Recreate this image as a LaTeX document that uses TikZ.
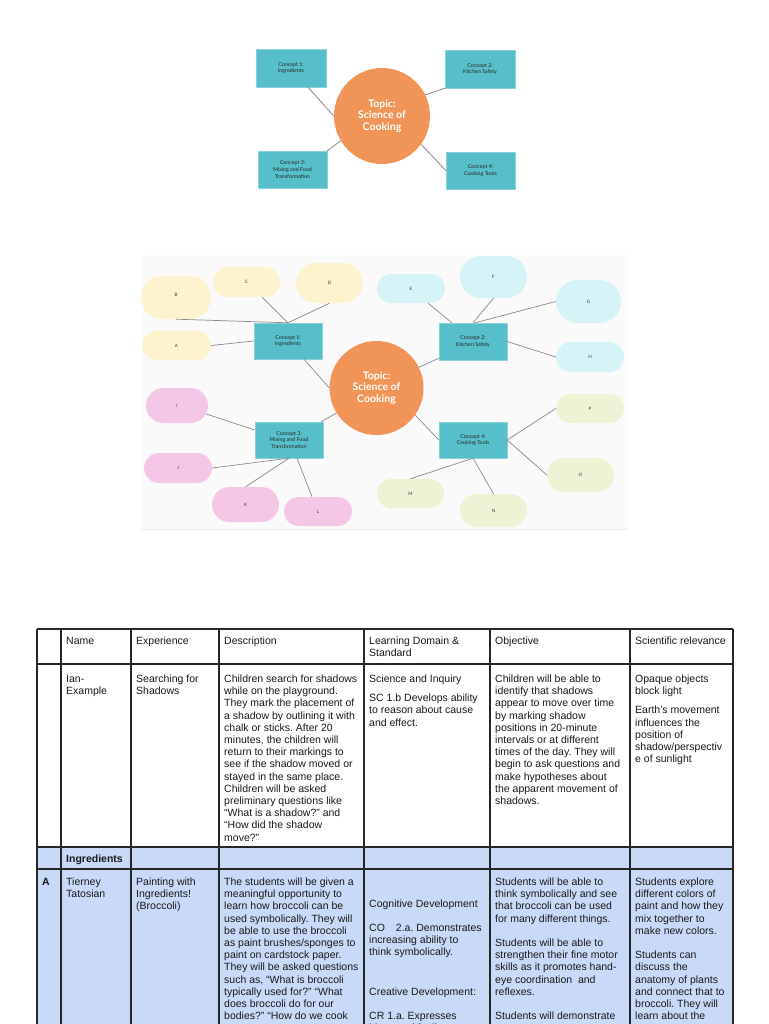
\documentclass[tikz,border=0pt]{standalone}
\usepackage{fontspec}
\setmainfont{Liberation Sans}
\newfontfamily\latofont{Lato}
\usetikzlibrary{calc}
\frenchspacing
\definecolor{tealbox}{HTML}{57BFC9}
\definecolor{orangec}{HTML}{F09458}
\definecolor{pyel}{HTML}{FDF3CE}
\definecolor{pblue}{HTML}{D6F4F7}
\definecolor{ppink}{HTML}{F4C7E6}
\definecolor{pgreen}{HTML}{EEF3D5}
\definecolor{connc}{HTML}{8A8A8A}
\definecolor{tblue}{HTML}{C9DAF8}
\definecolor{bgsoft}{HTML}{FAFAFA}
\newcommand{\tcell}[1]{\parbox[t]{170pt}{\raggedright\frenchspacing #1}}
\begin{document}
\begin{tikzpicture}[x=1pt,y=-1pt,
  concept/.style={fill=tealbox, draw=tealbox!70!white, line width=0.4pt, inner sep=0pt, align=center,
    font=\latofont\fontsize{5.3}{6.8}\selectfont, text=black!85},
  topic/.style={circle, fill=orangec, inner sep=0pt, text=white, align=center,
    font=\latofont\bfseries\fontsize{10.5}{11.5}\selectfont},
  pill/.style 2 args={minimum width=#1, minimum height=#2, rounded corners=#2/2, inner sep=0pt,
    font=\latofont\fontsize{4.5}{5}\selectfont, text=black!80},
  conn/.style={draw=connc, line width=0.8pt},
  conntwo/.style={draw=connc, line width=0.7pt},
  grid/.style={draw=black!85, line width=1.1pt},
  tc/.style={anchor=base west, inner sep=0pt, font=\fontsize{10.5}{12.2}\selectfont, text=black!90}
]
\useasboundingbox (0,0) rectangle (768,1024);
\fill[white] (0,0) rectangle (768,1024);

% ---------- top diagram ----------
\node[concept, minimum width=70, minimum height=38] (c1t) at (291,68) {Concept 1:\\Ingredients};
\node[concept, minimum width=70, minimum height=38] (c2t) at (480,69) {Concept 2:\\Kitchen Safety};
\node[concept, minimum width=69, minimum height=37] (c3t) at (292.5,169.5) {Concept 3:\\Mixing and Food\\Transformation};
\node[concept, minimum width=69, minimum height=37] (c4t) at (480.5,170.5) {Concept 4:\\Cooking Tools};
\node[topic, minimum size=96] (tt) at (382,116) {Topic:\\Science of\\Cooking};
\draw[conn] ([xshift=17pt]c1t.south) -- (tt.180);
\draw[conn] (c2t.south west) -- (tt.26);
\draw[conn] (c3t.north east) -- (tt.-149);
\draw[conn] (c4t.west) -- (tt.-36);

% ---------- second diagram ----------
\fill[bgsoft] (142,255) rectangle (628,529);
\draw[black!8, line width=0.8pt] (142,529) -- (628,529);

\node[topic, minimum size=94] (tb) at (376.5,388) {Topic:\\Science of\\Cooking};
\node[concept, minimum width=68, minimum height=36] (c1) at (288,341) {Concept 1:\\Ingredients};
\node[concept, minimum width=68, minimum height=37] (c2) at (473,341.5) {Concept 2:\\Kitchen Safety};
\node[concept, minimum width=68, minimum height=36] (c3) at (289,440) {Concept 3:\\Mixing and Food\\Transformation};
\node[concept, minimum width=68, minimum height=36] (c4) at (473,440) {Concept 4:\\Cooking Tools};

\node[pill={69}{29}, fill=pyel] (A) at (176.5,345.5) {A};
\node[pill={70}{43}, fill=pyel] (B) at (176,297.5) {\raisebox{6pt}{B}};
\node[pill={67}{30}, fill=pyel] (C) at (246.5,282) {C};
\node[pill={67}{40}, fill=pyel] (D) at (329.5,283) {\raisebox{-3pt}{D}};
\node[pill={68}{29}, fill=pblue] (E) at (411,288.5) {E};
\node[pill={67}{42}, fill=pblue] (F) at (493.5,277) {F};
\node[pill={65}{43}, fill=pblue] (G) at (588.5,301.5) {G};
\node[pill={68}{30}, fill=pblue] (H) at (590,357) {H};
\node[pill={62}{35}, fill=ppink] (I) at (177,405.5) {I};
\node[pill={68}{30}, fill=ppink] (J) at (178,468) {J};
\node[pill={67}{35}, fill=ppink] (K) at (245.5,504.5) {K};
\node[pill={68}{29}, fill=ppink] (L) at (318,511.5) {L};
\node[pill={67}{29}, fill=pgreen] (M) at (410.5,493.5) {M};
\node[pill={67}{33}, fill=pgreen] (N) at (493.5,510.5) {N};
\node[pill={67}{34}, fill=pgreen] (O) at (580.5,475) {O};
\node[pill={68}{29}, fill=pgreen] (P) at (590,408.5) {P};

\draw[conntwo] (B.south) -- (c1.north);
\draw[conntwo] ([xshift=15.5pt]C.south) -- (c1.north);
\draw[conntwo] (D.south) -- (c1.north);
\draw[conntwo] (A.east) -- (c1.west);
\draw[conntwo] ([xshift=16pt]c1.south) -- (tb.180);
\draw[conntwo] ([xshift=-2pt]c3.north east) -- (tb.-148);
\draw[conntwo] ($(I.east)+(-2,8.5)$) -- ([yshift=10pt]c3.west);
\draw[conntwo] (J.east) -- (c3.south);
\draw[conntwo] (K.north) -- (c3.south);
\draw[conntwo] ([xshift=-6pt]L.north) -- ([xshift=8pt]c3.south);
\draw[conntwo] ([xshift=17pt]E.south) -- ([xshift=-21pt]c2.north);
\draw[conntwo] (F.south) -- (c2.north);
\draw[conntwo] (G.west) -- ([xshift=2pt]c2.north);
\draw[conntwo] (c2.east) -- (H.west);
\draw[conntwo] ([yshift=2pt]c2.south west) -- (tb.26);
\draw[conntwo] (c4.west) -- (tb.-35);
\draw[conntwo] (c4.east) -- (P.west);
\draw[conntwo] (c4.east) -- (O.west);
\draw[conntwo] (c4.south) -- (M.north);
\draw[conntwo] (c4.south) -- (N.north);

% ---------- table ----------
\fill[tblue] (37,847) rectangle (733,1030);
\foreach \yy in {629,664,847,869} \draw[grid] (37,\yy) -- (733,\yy);
\foreach \xx in {37,61,131,219,364,490,630,733} \draw[grid] (\xx,629) -- (\xx,1030);

% header
\node[tc] (hname) at (66,644) {\tcell{Name}};
\node[tc] (hexp) at (136,644) {\tcell{Experience}};
\node[tc] (hdesc) at (224,644) {\tcell{Description}};
\node[tc] (hlearn) at (369,644) {\tcell{Learning Domain \&\\Standard}};
\node[tc] (hobj) at (495,644) {\tcell{Objective}};
\node[tc] (hsci) at (635,644) {\tcell{Scientific relevance}};

% row 1
\node[tc] (r1name) at (66,682.5) {\tcell{Ian-\\Example}};
\node[tc] (r1exp) at (136,682.5) {\tcell{Searching for\\Shadows}};
\node[tc] (r1desc) at (224,682.5) {\tcell{Children search for shadows\\while on the playground.\\They mark the placement of\\a shadow by outlining it with\\chalk or sticks. After 20\\minutes, the children will\\return to their markings to\\see if the shadow moved or\\stayed in the same place.\\Children will be asked\\preliminary questions like\\“What is a shadow?” and\\“How did the shadow\\move?”}};
\node[tc] (r1learn) at (369,682.5) {\tcell{Science and Inquiry\\[7pt]SC 1.b Develops ability\\to reason about cause\\and effect.}};
\node[tc] (r1obj) at (495,682.5) {\tcell{Children will be able to\\identify that shadows\\appear to move over time\\by marking shadow\\positions in 20-minute\\intervals or at different\\times of the day. They will\\begin to ask questions and\\make hypotheses about\\the apparent movement of\\shadows.}};
\node[tc] (r1sci) at (635,682.5) {\tcell{Opaque objects\\block light\\[7pt]Earth’s movement\\influences the\\position of\\shadow/perspectiv\\e of sunlight}};

% ingredients row
\node[tc] (ingr) at (66,862) {\tcell{\bfseries Ingredients}};

% row A
\node[tc] (raid) at (42,885.5) {\tcell{\bfseries A}};
\node[tc] (raname) at (66,885.5) {\tcell{Tierney\\Tatosian}};
\node[tc] (raexp) at (136,885.5) {\tcell{Painting with\\Ingredients!\\(Broccoli)}};
\node[tc] (radesc) at (224,885.5) {\tcell{The students will be given a\\meaningful opportunity to\\learn how broccoli can be\\used symbolically. They will\\be able to use the broccoli\\as paint brushes/sponges to\\paint on cardstock paper.\\They will be asked questions\\such as, “What is broccoli\\typically used for?” “What\\does broccoli do for our\\bodies?” “How do we cook}};
\node[tc] (ralearn) at (369,907) {\tcell{Cognitive Development\\[12.2pt]CO\hspace{11pt}2.a. Demonstrates\\increasing ability to\\think symbolically.\\[27pt]Creative Development:\\[12.2pt]CR 1.a. Expresses\\ideas and feelings}};
\node[tc] (raobj) at (495,885.5) {\tcell{Students will be able to\\think symbolically and see\\that broccoli can be used\\for many different things.\\[12.2pt]Students will be able to\\strengthen their fine motor\\skills as it promotes hand-\\eye coordination\hspace{5.8pt}and\\reflexes.\\[12.2pt]Students will demonstrate}};
\node[tc] (rasci) at (635,885.5) {\tcell{Students explore\\different colors of\\paint and how they\\mix together to\\make new colors.\\[12.2pt]Students can\\discuss the\\anatomy of plants\\and connect that to\\broccoli. They will\\learn about the}};
\end{tikzpicture}
\end{document}
